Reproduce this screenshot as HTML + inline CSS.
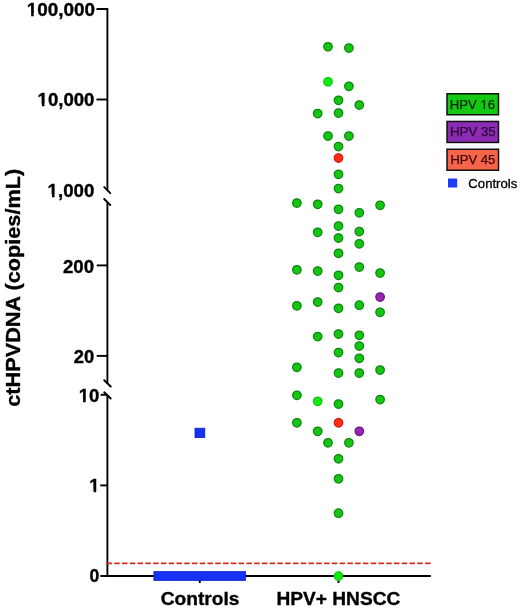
<!DOCTYPE html>
<html><head><meta charset="utf-8"><style>
html,body{margin:0;padding:0;background:#fff;}
svg{display:block;}
text{font-family:"Liberation Sans",Arial,sans-serif;}
.t{font-weight:bold;fill:#000;stroke:#000;stroke-width:0.35px;}
</style></head><body>
<svg width="520" height="609" viewBox="0 0 520 609">
<g transform="translate(20.00,287.75) rotate(-90)"><text class="t" x="0" y="0" text-anchor="middle" style="font-size:21px" textLength="238.00" lengthAdjust="spacingAndGlyphs">ctHPVDNA (copies/mL)</text></g>
<text class="t" x="60.87" y="15.52" text-anchor="middle" style="font-size:18.6px" textLength="68.25" lengthAdjust="spacingAndGlyphs">100,000</text>
<text class="t" x="65.98" y="105.80" text-anchor="middle" style="font-size:18.6px" textLength="56.85" lengthAdjust="spacingAndGlyphs">10,000</text>
<text class="t" x="70.99" y="196.50" text-anchor="middle" style="font-size:18.6px" textLength="46.76" lengthAdjust="spacingAndGlyphs">1,000</text>
<text class="t" x="78.48" y="272.56" text-anchor="middle" style="font-size:18.6px" textLength="31.13" lengthAdjust="spacingAndGlyphs">200</text>
<text class="t" x="84.03" y="362.62" text-anchor="middle" style="font-size:18.6px" textLength="20.51" lengthAdjust="spacingAndGlyphs">20</text>
<text class="t" x="89.13" y="402.18" text-anchor="middle" style="font-size:18.6px" textLength="20.71" lengthAdjust="spacingAndGlyphs">10</text>
<text class="t" x="94.43" y="492.46" text-anchor="middle" style="font-size:18.6px" textLength="10.21" lengthAdjust="spacingAndGlyphs">1</text>
<text class="t" x="94.38" y="582.36" text-anchor="middle" style="font-size:18.6px" textLength="9.80" lengthAdjust="spacingAndGlyphs">0</text>
<text class="t" x="200.11" y="605.10" text-anchor="middle" style="font-size:18.7px" textLength="78.72" lengthAdjust="spacingAndGlyphs">Controls</text>
<text class="t" x="338.40" y="604.90" text-anchor="middle" style="font-size:18.7px" textLength="123.80" lengthAdjust="spacingAndGlyphs">HPV+ HNSCC</text>
<g stroke="#000" stroke-width="1.9" fill="none">
<path d="M96.5,9.05 H107.4 V190.6"/>
<path d="M96.5,99.5 H107.4"/>
<path d="M96.7,265.4 H107.4"/>
<path d="M96.7,355.9 H107.4"/>
<path d="M107.4,202.4 V383.6"/>
<path d="M107.4,395.5 V576.0 H430.8"/>
<path d="M100.6,394.8 H107.4"/>
<path d="M100.2,485.4 H107.4"/>
<path d="M100.3,576.0 H107.4"/>
<path d="M199.8,576.0 V583"/>
<path d="M338.5,576.0 V583"/>
</g>
<g stroke="#000" stroke-width="1.9" stroke-linecap="round" fill="none">
<path d="M104.2,187.1 L110.3,193.2"/>
<path d="M104.2,199.0 L110.3,205.0"/>
<path d="M104.2,380.2 L110.7,386.5"/>
<path d="M104.2,392.3 L110.7,398.5"/>
</g>
<path d="M106.5,563.3 H430.9" stroke="#d82a24" stroke-width="1.8" stroke-dasharray="5.5 2.27" fill="none"/>
<rect x="153.9" y="571.6" width="91.7" height="8.8" fill="#1432f5" stroke="#0c22d0" stroke-width="0.8"/>
<rect x="195" y="428.2" width="9.8" height="9.4" fill="#1432f0" stroke="#0c20c8" stroke-width="0.8"/>
<circle cx="328" cy="46.80" r="4.25" fill="#16c416" stroke="#0a860a" stroke-width="1.25"/>
<circle cx="348.9" cy="48.05" r="4.25" fill="#16c416" stroke="#0a860a" stroke-width="1.25"/>
<circle cx="328" cy="81.80" r="4.25" fill="#10ec10" stroke="#12c412" stroke-width="1.25"/>
<circle cx="348.9" cy="86.30" r="4.25" fill="#16c416" stroke="#0a860a" stroke-width="1.25"/>
<circle cx="338.5" cy="100.30" r="4.25" fill="#16c416" stroke="#0a860a" stroke-width="1.25"/>
<circle cx="359.3" cy="105.05" r="4.25" fill="#16c416" stroke="#0a860a" stroke-width="1.25"/>
<circle cx="317.7" cy="113.55" r="4.25" fill="#16c416" stroke="#0a860a" stroke-width="1.25"/>
<circle cx="338.5" cy="113.05" r="4.25" fill="#16c416" stroke="#0a860a" stroke-width="1.25"/>
<circle cx="328" cy="136.05" r="4.25" fill="#16c416" stroke="#0a860a" stroke-width="1.25"/>
<circle cx="348.9" cy="136.05" r="4.25" fill="#16c416" stroke="#0a860a" stroke-width="1.25"/>
<circle cx="338.5" cy="146.55" r="4.25" fill="#16c416" stroke="#0a860a" stroke-width="1.25"/>
<circle cx="338.5" cy="158.05" r="4.25" fill="#ff2c18" stroke="#d0180a" stroke-width="1.25"/>
<circle cx="338.5" cy="174.30" r="4.25" fill="#16c416" stroke="#0a860a" stroke-width="1.25"/>
<circle cx="338.5" cy="188.55" r="4.25" fill="#16c416" stroke="#0a860a" stroke-width="1.25"/>
<circle cx="296.9" cy="203.05" r="4.25" fill="#16c416" stroke="#0a860a" stroke-width="1.25"/>
<circle cx="317.7" cy="204.30" r="4.25" fill="#16c416" stroke="#0a860a" stroke-width="1.25"/>
<circle cx="338.5" cy="209.30" r="4.25" fill="#16c416" stroke="#0a860a" stroke-width="1.25"/>
<circle cx="359.3" cy="212.80" r="4.25" fill="#16c416" stroke="#0a860a" stroke-width="1.25"/>
<circle cx="380.1" cy="205.30" r="4.25" fill="#16c416" stroke="#0a860a" stroke-width="1.25"/>
<circle cx="338.5" cy="226.05" r="4.25" fill="#16c416" stroke="#0a860a" stroke-width="1.25"/>
<circle cx="317.7" cy="232.30" r="4.25" fill="#16c416" stroke="#0a860a" stroke-width="1.25"/>
<circle cx="359.3" cy="231.55" r="4.25" fill="#16c416" stroke="#0a860a" stroke-width="1.25"/>
<circle cx="338.5" cy="238.05" r="4.25" fill="#16c416" stroke="#0a860a" stroke-width="1.25"/>
<circle cx="359.3" cy="243.80" r="4.25" fill="#16c416" stroke="#0a860a" stroke-width="1.25"/>
<circle cx="338.5" cy="253.30" r="4.25" fill="#16c416" stroke="#0a860a" stroke-width="1.25"/>
<circle cx="296.9" cy="269.80" r="4.25" fill="#16c416" stroke="#0a860a" stroke-width="1.25"/>
<circle cx="317.7" cy="271.05" r="4.25" fill="#16c416" stroke="#0a860a" stroke-width="1.25"/>
<circle cx="359.3" cy="267.05" r="4.25" fill="#16c416" stroke="#0a860a" stroke-width="1.25"/>
<circle cx="380.1" cy="273.05" r="4.25" fill="#16c416" stroke="#0a860a" stroke-width="1.25"/>
<circle cx="338.5" cy="275.30" r="4.25" fill="#16c416" stroke="#0a860a" stroke-width="1.25"/>
<circle cx="338.5" cy="287.55" r="4.25" fill="#16c416" stroke="#0a860a" stroke-width="1.25"/>
<circle cx="380.1" cy="297.05" r="4.25" fill="#9a26b2" stroke="#681480" stroke-width="1.25"/>
<circle cx="296.9" cy="305.80" r="4.25" fill="#16c416" stroke="#0a860a" stroke-width="1.25"/>
<circle cx="317.7" cy="302.05" r="4.25" fill="#16c416" stroke="#0a860a" stroke-width="1.25"/>
<circle cx="338.5" cy="308.30" r="4.25" fill="#16c416" stroke="#0a860a" stroke-width="1.25"/>
<circle cx="359.3" cy="305.20" r="4.25" fill="#16c416" stroke="#0a860a" stroke-width="1.25"/>
<circle cx="380.1" cy="312.30" r="4.25" fill="#16c416" stroke="#0a860a" stroke-width="1.25"/>
<circle cx="317.7" cy="336.55" r="4.25" fill="#16c416" stroke="#0a860a" stroke-width="1.25"/>
<circle cx="338.5" cy="334.05" r="4.25" fill="#16c416" stroke="#0a860a" stroke-width="1.25"/>
<circle cx="359.3" cy="335.30" r="4.25" fill="#16c416" stroke="#0a860a" stroke-width="1.25"/>
<circle cx="359.3" cy="346.05" r="4.25" fill="#16c416" stroke="#0a860a" stroke-width="1.25"/>
<circle cx="338.5" cy="352.55" r="4.25" fill="#16c416" stroke="#0a860a" stroke-width="1.25"/>
<circle cx="359.3" cy="358.30" r="4.25" fill="#16c416" stroke="#0a860a" stroke-width="1.25"/>
<circle cx="296.9" cy="367.30" r="4.25" fill="#16c416" stroke="#0a860a" stroke-width="1.25"/>
<circle cx="338.5" cy="373.05" r="4.25" fill="#16c416" stroke="#0a860a" stroke-width="1.25"/>
<circle cx="359.3" cy="373.05" r="4.25" fill="#16c416" stroke="#0a860a" stroke-width="1.25"/>
<circle cx="380.1" cy="370.05" r="4.25" fill="#16c416" stroke="#0a860a" stroke-width="1.25"/>
<circle cx="296.9" cy="395.30" r="4.25" fill="#16c416" stroke="#0a860a" stroke-width="1.25"/>
<circle cx="317.7" cy="401.30" r="4.25" fill="#10ec10" stroke="#12c412" stroke-width="1.25"/>
<circle cx="338.5" cy="404.05" r="4.25" fill="#16c416" stroke="#0a860a" stroke-width="1.25"/>
<circle cx="380.1" cy="399.55" r="4.25" fill="#16c416" stroke="#0a860a" stroke-width="1.25"/>
<circle cx="296.9" cy="422.80" r="4.25" fill="#16c416" stroke="#0a860a" stroke-width="1.25"/>
<circle cx="338.5" cy="422.80" r="4.25" fill="#ff2c18" stroke="#d0180a" stroke-width="1.25"/>
<circle cx="317.7" cy="431.30" r="4.25" fill="#16c416" stroke="#0a860a" stroke-width="1.25"/>
<circle cx="359.3" cy="431.30" r="4.25" fill="#9a26b2" stroke="#681480" stroke-width="1.25"/>
<circle cx="328" cy="442.80" r="4.25" fill="#16c416" stroke="#0a860a" stroke-width="1.25"/>
<circle cx="348.9" cy="442.80" r="4.25" fill="#16c416" stroke="#0a860a" stroke-width="1.25"/>
<circle cx="338.5" cy="458.80" r="4.25" fill="#16c416" stroke="#0a860a" stroke-width="1.25"/>
<circle cx="338.5" cy="478.80" r="4.25" fill="#16c416" stroke="#0a860a" stroke-width="1.25"/>
<circle cx="338.5" cy="513.20" r="4.25" fill="#16c416" stroke="#0a860a" stroke-width="1.25"/>
<circle cx="338.5" cy="576.10" r="4.25" fill="#10ec10" stroke="#12c412" stroke-width="1.25"/>
<rect x="447" y="93.75" width="51.5" height="21" fill="#14c814" stroke="#111" stroke-width="1.5"/>
<text class="" x="472.46" y="109.02" text-anchor="middle" style="font-size:12px" textLength="45.24" lengthAdjust="spacingAndGlyphs" fill="#0a2a0a" stroke="#0a2a0a" stroke-width="0.25">HPV 16</text>
<rect x="447" y="121.45" width="51.5" height="21" fill="#8c2cb4" stroke="#111" stroke-width="1.5"/>
<text class="" x="472.89" y="136.25" text-anchor="middle" style="font-size:12px" textLength="45.68" lengthAdjust="spacingAndGlyphs" fill="#2a0838" stroke="#2a0838" stroke-width="0.25">HPV 35</text>
<rect x="447" y="149.25" width="51.5" height="21" fill="#f8644a" stroke="#111" stroke-width="1.5"/>
<text class="" x="472.83" y="164.24" text-anchor="middle" style="font-size:12px" textLength="44.65" lengthAdjust="spacingAndGlyphs" fill="#3a0a04" stroke="#3a0a04" stroke-width="0.25">HPV 45</text>
<rect x="448" y="178.5" width="9.2" height="9" fill="#1a3cff"/>
<text class="" x="492.84" y="187.56" text-anchor="middle" style="font-size:12px" textLength="49.00" lengthAdjust="spacingAndGlyphs" fill="#000" stroke="#000" stroke-width="0.3">Controls</text>
<rect x="26.83" y="13.17" width="4.32" height="4.10" fill="#fff"/>
<rect x="33.74" y="13.17" width="3.68" height="4.10" fill="#fff"/>
<rect x="37.63" y="103.45" width="4.27" height="4.10" fill="#fff"/>
<rect x="44.44" y="103.45" width="3.63" height="4.10" fill="#fff"/>
<rect x="47.69" y="194.15" width="4.29" height="4.10" fill="#fff"/>
<rect x="54.54" y="194.15" width="3.65" height="4.10" fill="#fff"/>
<rect x="78.85" y="399.83" width="4.27" height="4.10" fill="#fff"/>
<rect x="85.68" y="399.83" width="3.64" height="4.10" fill="#fff"/>
<rect x="89.38" y="490.11" width="4.23" height="4.10" fill="#fff"/>
<rect x="96.13" y="490.11" width="3.60" height="4.10" fill="#fff"/>
<rect x="480.37" y="107.67" width="3.41" height="3.10" fill="#14c814"/>
<rect x="484.94" y="107.67" width="2.90" height="3.10" fill="#14c814"/>
</svg>
</body></html>
